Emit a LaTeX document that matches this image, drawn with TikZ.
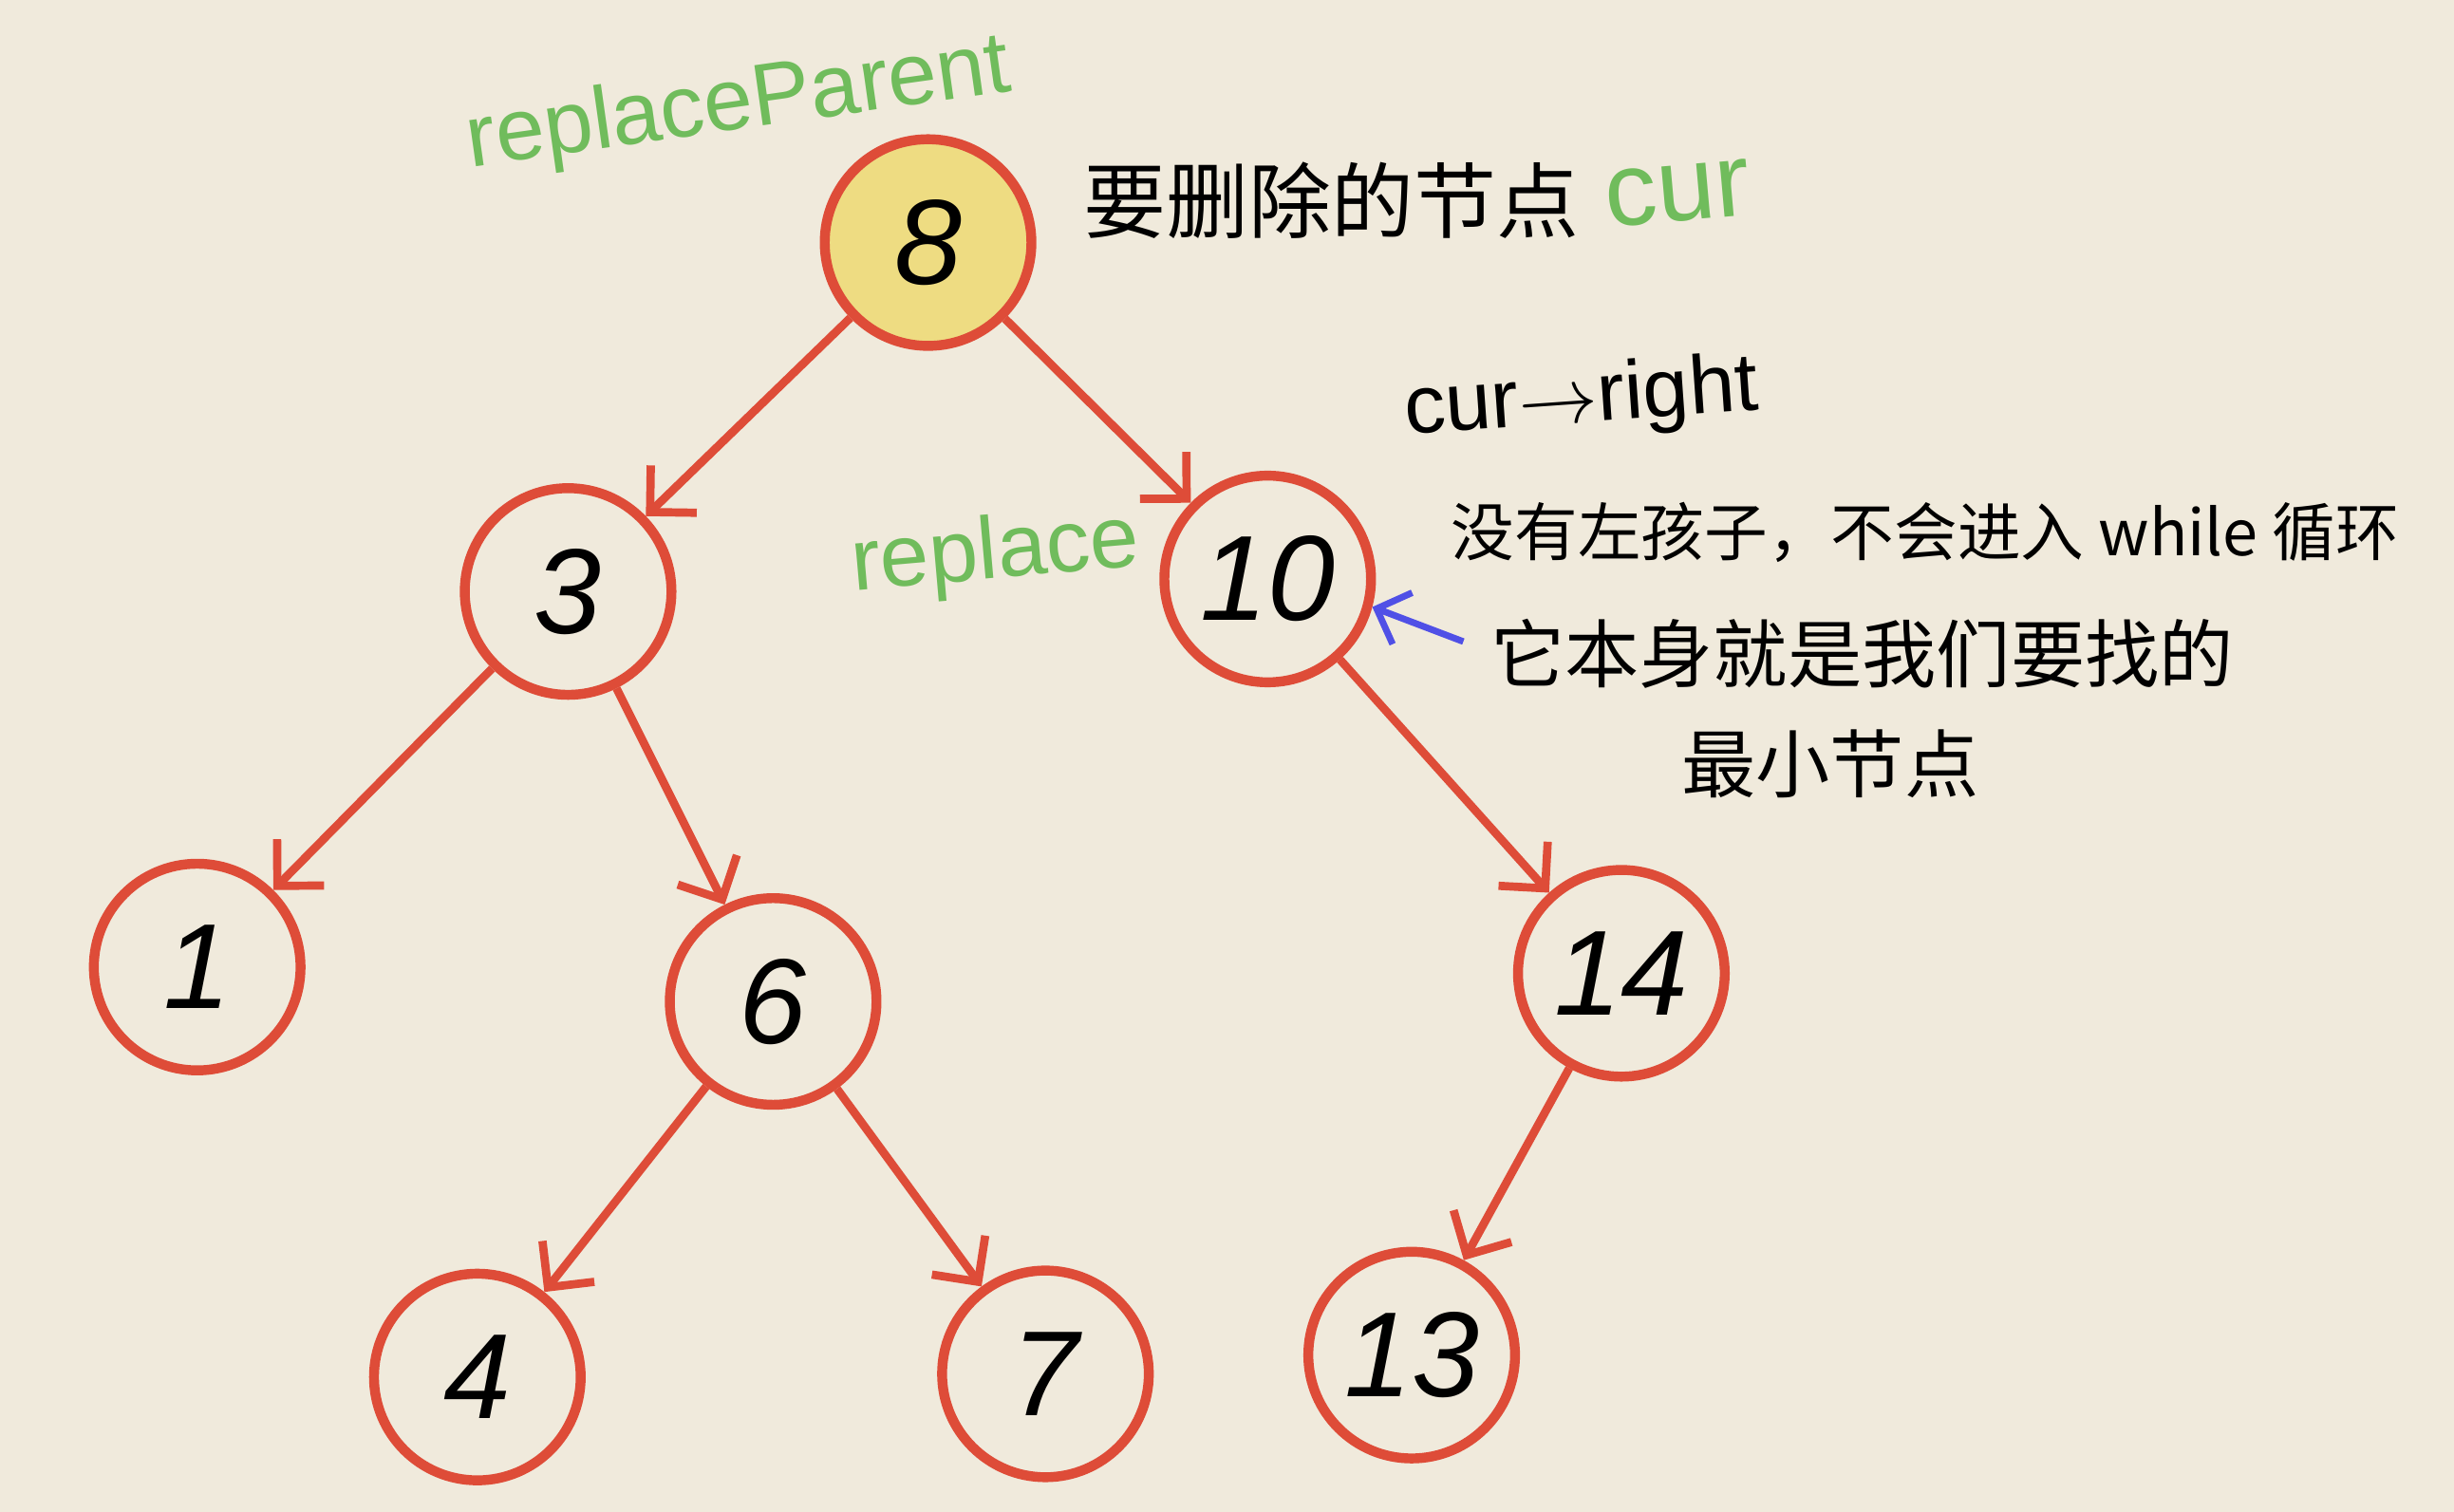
\documentclass[tikz,border=0pt]{standalone}
\usepackage{fontspec}
\setmainfont{Liberation Sans}
\newfontfamily\cjk{Noto Sans CJK SC}
\usetikzlibrary{arrows.meta, positioning}
\definecolor{paperbg}{RGB}{240,234,220}
\definecolor{nodered}{RGB}{222,76,56}
\definecolor{curyellow}{RGB}{238,220,130}
\definecolor{notegreen}{RGB}{112,188,92}
\definecolor{pointblue}{RGB}{80,80,230}

\begin{document}
\begin{tikzpicture}[x=0.01cm, y=-0.01cm,
    tnode/.style={circle, draw=nodered, line width=1.8pt, minimum size=1.32cm, inner sep=0pt, font=\fontsize{22}{22}\selectfont\itshape},
    edge/.style={-{Straight Barb[length=6pt]}, draw=nodered, line width=1.5pt},
    note/.style={font=\cjk\fontsize{12.5}{15}\selectfont, anchor=west},
    tag/.style={font=\fontsize{16}{18}\selectfont, text=notegreen}
]
\useasboundingbox[fill=paperbg] (0,0) rectangle (1568,966);

% Tree nodes
\node[tnode, fill=curyellow] (n8) at (593,155) {8};
\node[tnode] (n3) at (363,378) {3};
\node[tnode] (n10) at (810,370) {10};
\node[tnode] (n1) at (126,618) {1};
\node[tnode] (n6) at (494,640) {6};
\node[tnode] (n14) at (1036,622) {14};
\node[tnode] (n4) at (305,880) {4};
\node[tnode] (n7) at (668,878) {7};
\node[tnode] (n13) at (902,866) {13};

% Edges
\draw[edge] (n8) -- (n3);
\draw[edge] (n8) -- (n10);
\draw[edge] (n3) -- (n1);
\draw[edge] (n3) -- (n6);
\draw[edge] (n10) -- (n14);
\draw[edge] (n6) -- (n4);
\draw[edge] (n6) -- (n7);
\draw[edge] (n14) -- (n13);

% Labels
\node[tag, rotate=8] (lparent) at (472,68) {replaceParent};
\node[tag, rotate=5] (lreplace) at (636,355) {replace};
\node[note, font=\cjk\fontsize{15}{18}\selectfont] (ldel) at (680,128) {要删除的节点};
\node[tag, anchor=west, inner sep=1pt, font=\fontsize{19}{20}\selectfont, rotate=5] (lcur) at (ldel.east) {cur};
\node[note, font=\fontsize{15}{17}\selectfont, rotate=4] (lright) at (885,265) {cur$\rightarrow$right};
\node[note, font=\cjk\fontsize{11.5}{14}\selectfont] (lnoleft) at (915,340) {没有左孩子，不会进入 while 循环};
\node[note, font=\cjk\fontsize{13.5}{16}\selectfont] (lself) at (940,418) {它本身就是我们要找的};
\node[note, font=\cjk\fontsize{13.5}{16}\selectfont] (lmin) at (1062,488) {最小节点};

% Pointer
\coordinate (ptail) at (935,410);
\draw[-{Straight Barb[length=5pt]}, pointblue, line width=1.2pt] (ptail) -- (n10.-15);
\end{tikzpicture}
\end{document}
